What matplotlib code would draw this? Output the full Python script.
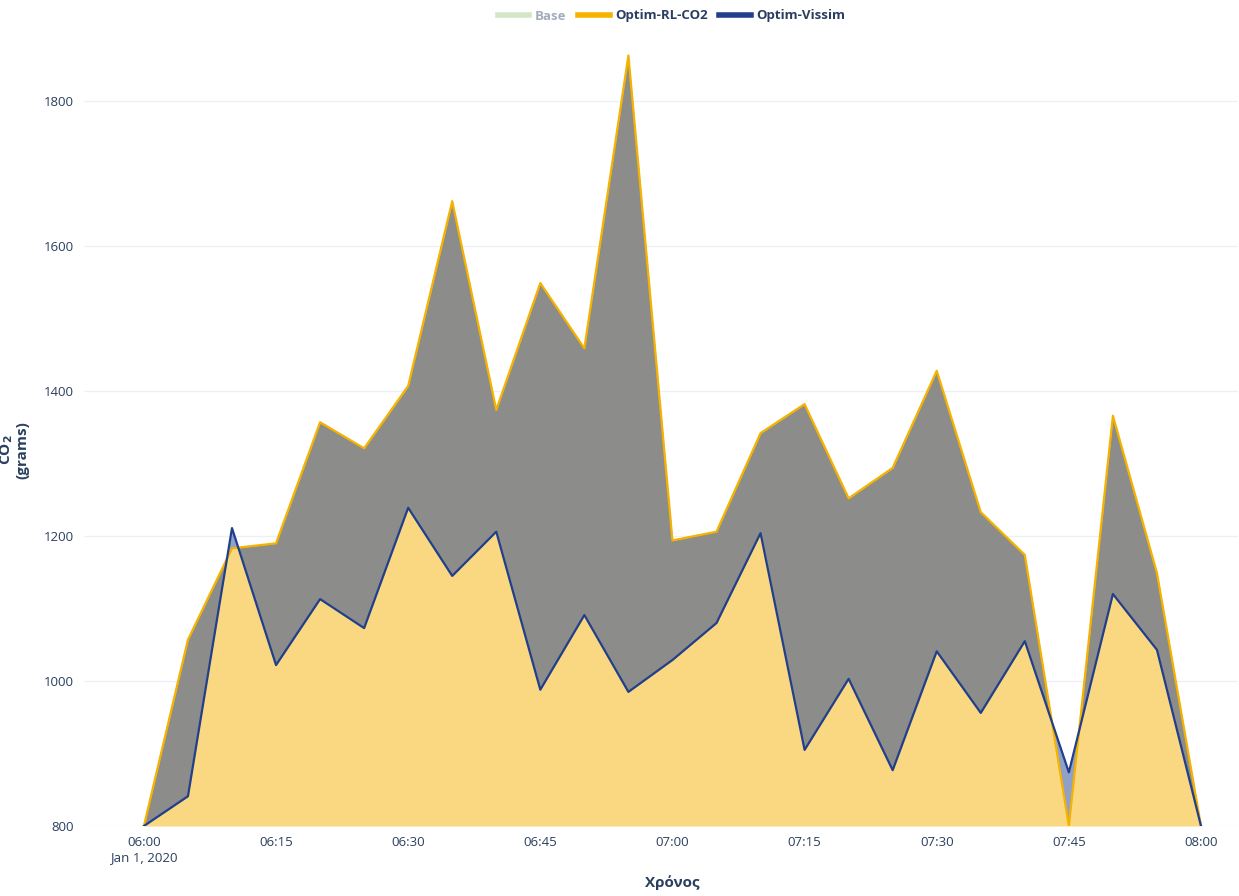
import matplotlib
matplotlib.use("Agg")
from matplotlib import pyplot as plt
import matplotlib.dates as mdates
from matplotlib.lines import Line2D
import pandas as pd

plt.rcParams['font.family'] = ['Open Sans', 'DejaVu Sans']

# CO2 per 5-minute interval
times = pd.date_range("2020-01-01 06:00", "2020-01-01 08:00", freq="5min")
optim_rl_co2 = [800, 1057, 1183, 1190, 1357, 1321, 1407, 1662, 1374, 1549, 1459, 1863,
                1194, 1206, 1342, 1382, 1252, 1294, 1428, 1233, 1174, 800, 1366, 1149, 800]
optim_vissim = [800, 841, 1211, 1022, 1113, 1073, 1239, 1145, 1206, 988, 1091, 985,
                1029, 1080, 1204, 905, 1003, 877, 1041, 956, 1055, 874, 1120, 1043, 800]
y_ticks = [800, 1000, 1200, 1400, 1600, 1800]

txt = '#2a3f5f'
yellow_line = '#f5b300'
yellow_fill = '#f9d881'
blue_line = '#223f8c'
blue_fill = (0.13, 0.26, 0.58, 0.5)

fig = plt.figure(figsize=(12.39, 8.96), dpi=100)
ax = fig.add_axes([84/1239, 70/896, 1154/1239, 801/896])

ax.fill_between(times, 800, optim_rl_co2, color=yellow_fill, lw=0, zorder=2)
ax.fill_between(times, optim_rl_co2, optim_vissim, color=blue_fill, lw=0, zorder=3)
ax.plot(times, optim_rl_co2, color=yellow_line, lw=1.6, zorder=4)
ax.plot(times, optim_vissim, color=blue_line, lw=1.6, zorder=5)

ax.set_ylim(800, 1905)
ax.set_xlim(times[0] - pd.Timedelta(minutes=6.8), times[-1] + pd.Timedelta(minutes=4.2))
ax.set_yticks(y_ticks)
ax.grid(axis='y', color='#eef0f6', lw=1, zorder=0)
ax.set_axisbelow(True)
for s in ax.spines.values():
    s.set_visible(False)
ax.tick_params(length=0, labelsize=9.5, colors=txt, pad=7)

xt = pd.date_range("2020-01-01 06:00", "2020-01-01 08:00", freq="15min")
ax.set_xticks(xt)
ax.set_xticklabels(["06:00\nJan 1, 2020"] + [t.strftime("%H:%M") for t in xt[1:]])

fig.text(672/1239, 1 - 883/896, "Χρόνος", fontsize=11, fontweight='bold', color=txt,
         ha='center', va='center')
fig.text(14/1239, 1 - 450/896, "CO$_\\mathbf{2}$\n(grams)", fontsize=11, fontweight='bold',
         color=txt, rotation=90, ha='center', va='center', multialignment='center',
         linespacing=1.0)

handles = [
    Line2D([], [], color='#d4e6c8', lw=4),
    Line2D([], [], color=yellow_line, lw=4),
    Line2D([], [], color=blue_line, lw=4),
]
leg = fig.legend(handles, ["Base", "Optim-RL-CO2", "Optim-Vissim"], loc='center',
                 bbox_to_anchor=(0.542, 1 - 16/896), ncol=3, frameon=False,
                 handlelength=2.4, handletextpad=0.4, columnspacing=0.9,
                 prop={'size': 9.5, 'weight': 'bold'})
cols = ['#a5adbd', txt, txt]
for t, c in zip(leg.get_texts(), cols):
    t.set_color(c)

fig.savefig("out.png", dpi=100)
